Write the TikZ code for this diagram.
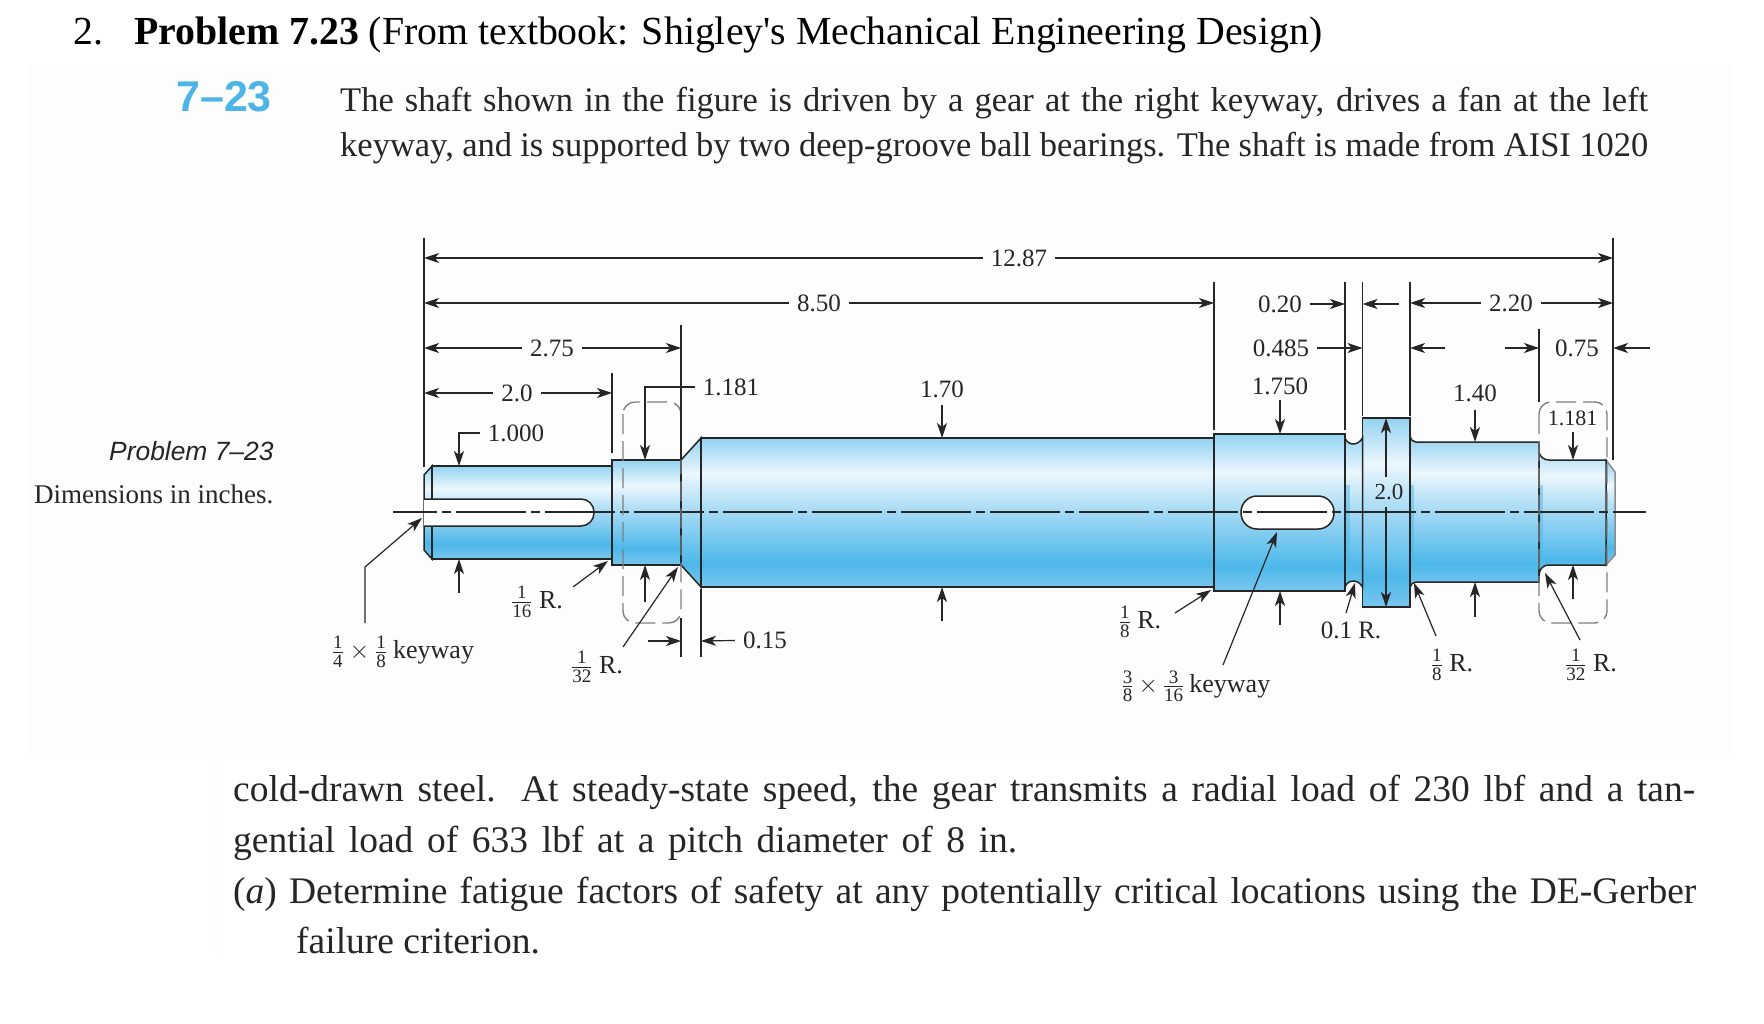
\documentclass[tikz,border=0pt]{standalone}
\usepackage{amsmath}
\usepackage{fontspec}
\setmainfont{Liberation Serif}
\setsansfont{Liberation Sans}
\usetikzlibrary{arrows.meta, positioning}

\definecolor{inkdark}{HTML}{262626}
\definecolor{blueA}{HTML}{78C6EE}
\definecolor{blueB}{HTML}{4DB8EA}
\definecolor{blueC}{HTML}{A3D9F4}
\definecolor{blueD}{HTML}{EBF7FD}
\definecolor{blueE}{HTML}{93D2F2}
\definecolor{titleblue}{HTML}{4DB4E8}
\pgfdeclareverticalshading{shaftblue}{100bp}{color(0bp)=(blueA); color(25bp)=(blueA); color(33bp)=(blueB); color(50bp)=(blueC); color(63bp)=(blueD); color(75bp)=(blueE); color(100bp)=(blueE)}

\newcommand{\stackfrac}[2]{$\genfrac{}{}{0.8pt}{}{\hbox{\fontsize{19}{19}\selectfont #1}}{\hbox{\fontsize{19}{19}\selectfont #2}}$}
\newcommand{\fitline}[2]{\makebox[#1pt][s]{#2}}

\tikzset{
    shaftpart/.style={shade, shading=shaftblue, draw=inkdark, line width=1.5pt},
    dimline/.style={draw=inkdark, line width=1.2pt, -{Stealth[length=15pt,width=10pt,inset=4pt]}},
    extline/.style={draw=inkdark, line width=1.2pt},
    dimlabel/.style={text=inkdark, font=\fontsize{25}{25}\selectfont, inner sep=8pt},
    fraclabel/.style={text=inkdark, font=\fontsize{26}{26}\selectfont, inner sep=0pt},
    smalllabel/.style={text=inkdark, font=\fontsize{22}{22}\selectfont, inner sep=3pt},
    dashbox/.style={draw=black!50, line width=1.4pt, dash pattern=on 20pt off 7pt, rounded corners=12pt},
    bodytext/.style={text=inkdark, anchor=base west, inner sep=0pt, font=\fontsize{34.5}{34.5}\selectfont},
    lowertext/.style={text=inkdark, anchor=base west, inner sep=0pt, font=\fontsize{37.5}{37.5}\selectfont}
}

\begin{document}
\begin{tikzpicture}[x=1pt, y=-1pt]
    \useasboundingbox (0,0) rectangle (1764,1024);

    % Faint page panels
    \fill[black!0.6] (27,64) rectangle (1732,754);
    \fill[black!0.6] (215,754) rectangle (1732,955);
    \fill[white] (218,754) rectangle (1732,955);

    % Heading and problem text
    \node[anchor=base west, inner sep=0pt, font=\fontsize{39.8}{39.8}\selectfont] (hdrnum) at (73,45) {2.};
    \node[anchor=base west, inner sep=0pt, font=\fontsize{39.8}{39.8}\selectfont] (hdr) at (134,45) {\textbf{Problem 7.23} (From textbook: Shigley\textquotesingle s Mechanical Engineering Design)};
    \node[anchor=west, inner sep=0pt, text=titleblue, font=\sffamily\bfseries\fontsize{43}{43}\selectfont] (probnum) at (176,97) {7--23};
    \node[bodytext] (bodyA) at (340,112) {\fitline{1308}{The shaft shown in the figure is driven by a gear at the right keyway, drives a fan at the left}};
    \node[bodytext] (bodyB) at (340,157) {\fitline{1308}{keyway, and is supported by two deep-groove ball bearings. The shaft is made from AISI 1020}};
    \node[anchor=west, inner sep=0pt, text=inkdark, font=\sffamily\itshape\fontsize{26.4}{26.4}\selectfont] (figname) at (109,451) {Problem 7--23};
    \node[anchor=west, inner sep=0pt, text=inkdark, font=\fontsize{27}{27}\selectfont] (figdims) at (34,494) {Dimensions in inches.};
    \node[lowertext] (lowerA) at (233,801) {\fitline{1462}{cold-drawn steel. At steady-state speed, the gear transmits a radial load of 230 lbf and a tan-}};
    \node[lowertext] (lowerB) at (233,852) {\fitline{784}{gential load of 633 lbf at a pitch diameter of 8 in.}};
    \node[lowertext] (lowerC) at (233,903) {\fitline{1463}{(\textit{a}) Determine fatigue factors of safety at any potentially critical locations using the DE-Gerber}};
    \node[lowertext] (lowerD) at (296,953) {failure criterion.};

    % Shaft sections
    \shade[shaftpart] (424,475) -- (432,466) -- (432,559) -- (424,550) -- cycle;
    \shade[shaftpart, draw=black!45] (1606,460) -- (1615,472) -- (1615,555) -- (1606,565) -- cycle;
    \shade[shaftpart] (681,460) -- (701,438) -- (701,587) -- (681,565) -- cycle;
    \foreach \xa/\xb/\ya/\yb in {432/612/466/559, 612/681/460/565, 701/1214/438/587, 1214/1345/434/591, 1362.5/1410/418/607} {
        \shade[shaftpart] (\xa,\ya) rectangle (\xb,\yb);
    }

    % Groove and fillets
    \shade[shaftpart] (1345,434) -- (1345,438) .. controls (1348,446) and (1358,446) .. (1362.5,438) -- (1362.5,587) .. controls (1358,579) and (1348,579) .. (1345,587) -- (1345,591) -- cycle;
    \shade[shaftpart] (1410,436) .. controls (1411,440) and (1413,442) .. (1416,442) -- (1539,442) -- (1539,582) -- (1416,582) .. controls (1413,582) and (1411,584) .. (1410,588) -- cycle;
    \shade[shaftpart] (1539,442) -- (1539,452) .. controls (1540,457) and (1544,460) .. (1549,460) -- (1606,460) -- (1606,565) -- (1549,565) .. controls (1544,565) and (1540,568) .. (1539,574) -- (1539,582) -- cycle;

    % Darker bands next to the shoulders
    \foreach \xa/\xb in {1346/1350, 1411/1414, 1540/1543} {
        \fill[blueB, opacity=0.5] (\xa,485) rectangle (\xb,562);
    }

    % Keyways
    \draw[fill=white, draw=inkdark, line width=1.5pt, rounded corners=13pt] (424,499) -- (594,499) -- (594,526) -- (424,526);
    \draw[fill=white, draw=inkdark, line width=1.5pt, rounded corners=16pt] (1241,496) rectangle (1334,529);

    % Centre line
    \draw[extline, dash pattern=on 70pt off 5pt on 9pt off 5pt, dash phase=26pt] (393,512) -- (1646,512);

    % Dashed detail boxes
    \draw[dashbox] (623,402) rectangle (681,623);
    \draw[dashbox] (1539,402) rectangle (1607,623);

    % Extension lines
    \foreach \x/\ya/\yb in {424/238/467, 681/325/460, 612/373/453, 1214/282/430, 1345/282/430, 1362.5/282/416, 1410/282/416, 1539/329/402, 1613/238/460, 701/589/657, 681/618/657} {
        \draw[extline] (\x,\ya) -- (\x,\yb);
    }

    % Dimension labels
    \foreach \name/\x/\y/\val in {lblTotal/1019/258/12.87, lblBore/819/303/8.50, lblShort/552/348/2.75, lblKey/517/393/2.0, lblCollar/1511/303/2.20, lblGap/1280/304/0.20, lblGroove/1281/348/0.485, lblTip/1577/348/0.75, lblCham/765/640/0.15, lblDiaA/516/433/1.000, lblDiaB/731/387/1.181, lblDiaC/942/389/1.70, lblDiaD/1280/386/1.750, lblDiaE/1475/393/1.40, lblRad/1351/630/0.1 R.} {
        \node[dimlabel] (\name) at (\x,\y) {\val};
    }
    \node[smalllabel] (lblDiaF) at (1572.5,418) {1.181};
    \node[smalllabel, font=\fontsize{23}{23}\selectfont] (lblFlange) at (1389,492) {2.0};

    % Fraction labels
    \node[fraclabel] (lblFilA) at (537,602) {\stackfrac{1}{16} R.};
    \node[fraclabel] (lblFilB) at (597,667) {\stackfrac{1}{32} R.};
    \node[fraclabel] (lblFilC) at (1140,622) {\stackfrac{1}{8} R.};
    \node[fraclabel] (lblFilD) at (1452,665) {\stackfrac{1}{8} R.};
    \node[fraclabel] (lblFilE) at (1591,665) {\stackfrac{1}{32} R.};
    \node[fraclabel] (lblWayA) at (403,652) {\stackfrac{1}{4}\hspace{6pt}$\times$\hspace{6pt}\stackfrac{1}{8}\hspace{6pt}keyway};
    \node[fraclabel] (lblWayB) at (1196,686) {\stackfrac{3}{8}\hspace{5pt}$\times$\hspace{5pt}\stackfrac{3}{16}\hspace{5pt}keyway};

    % Horizontal dimension arrows
    \draw[dimline] (lblTotal) -- (424,258);
    \draw[dimline] (lblTotal) -- (1613,258);
    \draw[dimline] (lblBore) -- (424,303);
    \draw[dimline] (lblBore) -- (1214,303);
    \draw[dimline] (lblShort) -- (424,348);
    \draw[dimline] (lblShort) -- (681,348);
    \draw[dimline] (lblKey) -- (424,393);
    \draw[dimline] (lblKey) -- (612,393);
    \draw[dimline] (lblCollar) -- (1410,303);
    \draw[dimline] (lblCollar) -- (1613,303);
    \draw[dimline] (lblGap) -- (1345,304);
    \draw[dimline] (1399,304) -- (1362.5,304);
    \draw[dimline] (lblGroove) -- (1362.5,348);
    \draw[dimline] (1445,348) -- (1410,348);
    \draw[dimline] (1505,348) -- (1539,348);
    \draw[dimline] (1650,348) -- (1613,348);
    \draw[dimline] (648,641) -- (681,641);
    \draw[dimline] (lblCham) -- (701,641);

    % Diameter arrows
    \draw[dimline] (lblDiaA.west) -- (459,433) -- (459,466);
    \draw[dimline] (lblDiaB.west) -- (645,387) -- (645,460);
    \draw[dimline] (942,405) -- (942,438);
    \draw[dimline] (1280,400) -- (1280,434);
    \draw[dimline] (1475,410) -- (1475,442);
    \draw[dimline] (1573,432) -- (1573,460);
    \draw[dimline] (459,593) -- (459,559);
    \draw[dimline] (645,602) -- (645,565);
    \draw[dimline] (942,621) -- (942,587);
    \draw[dimline] (1280,625) -- (1280,591);
    \draw[dimline] (1475,617) -- (1475,582);
    \draw[dimline] (1573,599) -- (1573,565);
    \draw[dimline] (1386,477) -- (1386,418);
    \draw[dimline] (1386,507) -- (1386,607);

    % Leaders to fillets and keyways
    \draw[dimline] (573,587) -- (608,561);
    \draw[dimline] (623,647) -- (678,567);
    \draw[dimline] (1175,613) -- (1211,590);
    \draw[dimline] (1346,613) -- (1355,583);
    \draw[dimline] (1436,636) -- (1414,583);
    \draw[dimline] (1580,640) -- (1545,573);
    \draw[dimline] (1223,665) -- (1277,532);
    \draw[dimline] (365,623) -- (365,567) -- (422,518);

\end{tikzpicture}
\end{document}
